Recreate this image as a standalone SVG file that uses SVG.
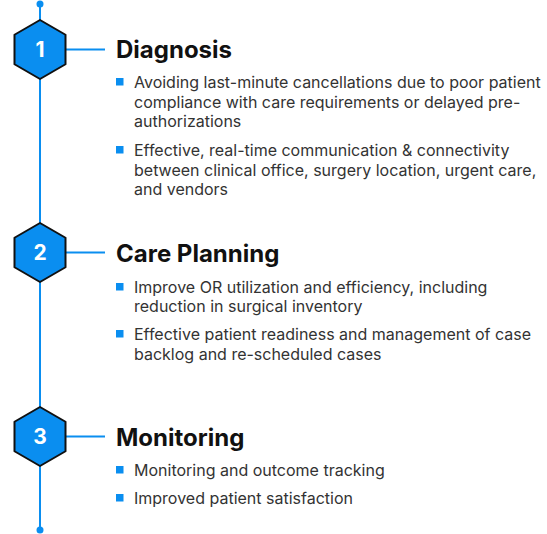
<svg xmlns="http://www.w3.org/2000/svg" width="547" height="534" viewBox="0 0 547 534">
<style>
.hex{fill:#0a8ef0;stroke:#111;stroke-width:2;stroke-linejoin:round}
.num{font-family:Inter,"Noto Sans",sans-serif;font-weight:700;font-size:21px;fill:#fff;text-anchor:middle}
.ttl{font-family:Inter,"Noto Sans",sans-serif;font-weight:700;font-size:24px;fill:#111}
.txt{font-family:Inter,"Noto Sans",sans-serif;font-size:16px;fill:#333}
.bul{fill:#0a8ef0}
.ln{stroke:#0a8ef0;stroke-width:2;fill:none}
</style>
<g id="connectors">
<line class="ln" x1="40" y1="4" x2="40" y2="530"/>
<circle cx="40" cy="4" r="3.5" fill="#0a8ef0"/>
<circle cx="40" cy="530" r="3.5" fill="#0a8ef0"/>
<line class="ln" x1="65" y1="49.5" x2="105" y2="49.5"/>
<line class="ln" x1="65" y1="252.5" x2="105" y2="252.5"/>
<line class="ln" x1="65" y1="436.5" x2="105" y2="436.5"/>
</g>
<g id="step1">
<polygon class="hex" points="40,20 65.5,34.75 65.5,64.25 40,79 14.5,64.25 14.5,34.75"/>
<text class="num" x="40" y="57">1</text>
<text class="ttl" x="116" y="58">Diagnosis</text>
<rect class="bul" x="116" y="78" width="7.5" height="7.5"/>
<text class="txt" x="134" y="88">Avoiding last-minute cancellations due to poor patient</text>
<text class="txt" x="134" y="108">compliance with care requirements or delayed pre-</text>
<text class="txt" x="134" y="127">authorizations</text>
<rect class="bul" x="116" y="146" width="7.5" height="7.5"/>
<text class="txt" x="134" y="156">Effective, real-time communication &amp; connectivity</text>
<text class="txt" x="134" y="176">between clinical office, surgery location, urgent care,</text>
<text class="txt" x="134" y="195">and vendors</text>
</g>
<g id="step2">
<polygon class="hex" points="40,223 65.5,237.75 65.5,267.25 40,282 14.5,267.25 14.5,237.75"/>
<text class="num" x="40" y="260">2</text>
<text class="ttl" x="116" y="262">Care Planning</text>
<rect class="bul" x="116" y="283" width="7.5" height="7.5"/>
<text class="txt" x="134" y="293">Improve OR utilization and efficiency, including</text>
<text class="txt" x="134" y="312">reduction in surgical inventory</text>
<rect class="bul" x="116" y="330" width="7.5" height="7.5"/>
<text class="txt" x="134" y="340">Effective patient readiness and management of case</text>
<text class="txt" x="134" y="360">backlog and re-scheduled cases</text>
</g>
<g id="step3">
<polygon class="hex" points="40,407 65.5,421.75 65.5,451.25 40,466 14.5,451.25 14.5,421.75"/>
<text class="num" x="40" y="444">3</text>
<text class="ttl" x="116" y="446">Monitoring</text>
<rect class="bul" x="116" y="466" width="7.5" height="7.5"/>
<text class="txt" x="134" y="476">Monitoring and outcome tracking</text>
<rect class="bul" x="116" y="494" width="7.5" height="7.5"/>
<text class="txt" x="134" y="504">Improved patient satisfaction</text>
</g>
</svg>
